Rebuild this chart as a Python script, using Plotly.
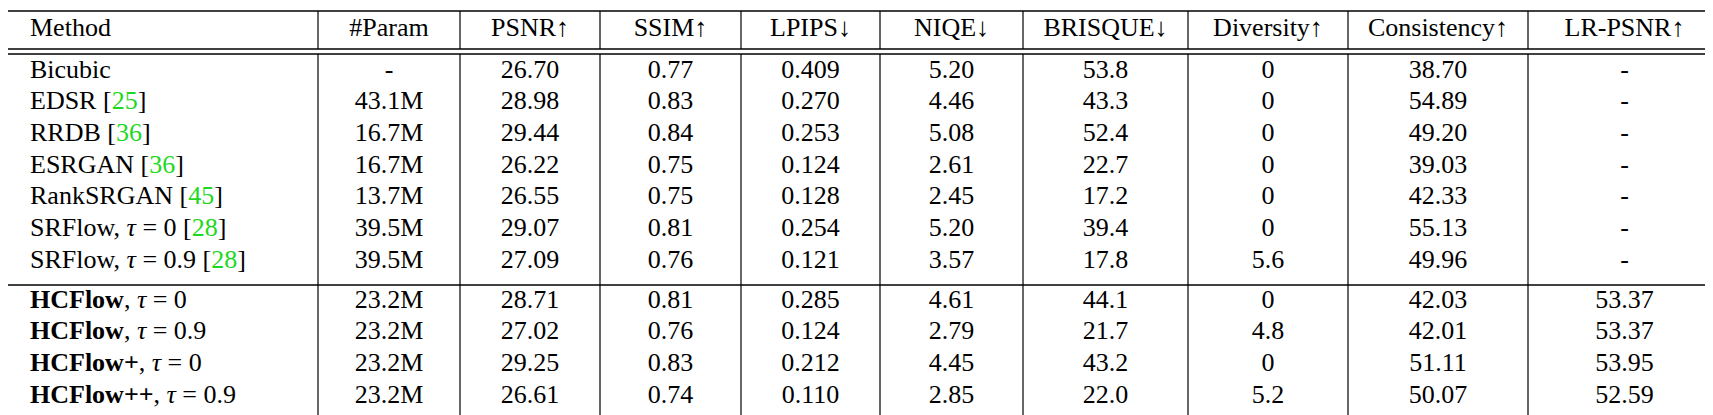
import plotly.graph_objects as go

GREEN = "#1ed81e"


def ref(n):
    return f'[<span style="color:{GREEN}">{n}</span>]'


headers = ["Method", "#Param", "PSNR↑", "SSIM↑", "LPIPS↓", "NIQE↓", "BRISQUE↓",
           "Diversity↑", "Consistency↑", "LR-PSNR↑"]

methods = [
    "Bicubic",
    "EDSR " + ref(25),
    "RRDB " + ref(36),
    "ESRGAN " + ref(36),
    "RankSRGAN " + ref(45),
    "SRFlow, <i>τ</i> = 0 " + ref(28),
    "SRFlow, <i>τ</i> = 0.9 " + ref(28),
    "<b>HCFlow</b>, <i>τ</i> = 0",
    "<b>HCFlow</b>, <i>τ</i> = 0.9",
    "<b>HCFlow+</b>, <i>τ</i> = 0",
    "<b>HCFlow++</b>, <i>τ</i> = 0.9",
]
params = ["-", "43.1M", "16.7M", "16.7M", "13.7M", "39.5M", "39.5M",
          "23.2M", "23.2M", "23.2M", "23.2M"]
psnr = ["26.70", "28.98", "29.44", "26.22", "26.55", "29.07", "27.09",
        "28.71", "27.02", "29.25", "26.61"]
ssim = ["0.77", "0.83", "0.84", "0.75", "0.75", "0.81", "0.76",
        "0.81", "0.76", "0.83", "0.74"]
lpips = ["0.409", "0.270", "0.253", "0.124", "0.128", "0.254", "0.121",
         "0.285", "0.124", "0.212", "0.110"]
niqe = ["5.20", "4.46", "5.08", "2.61", "2.45", "5.20", "3.57",
        "4.61", "2.79", "4.45", "2.85"]
brisque = ["53.8", "43.3", "52.4", "22.7", "17.2", "39.4", "17.8",
           "44.1", "21.7", "43.2", "22.0"]
diversity = ["0", "0", "0", "0", "0", "0", "5.6", "0", "4.8", "0", "5.2"]
consistency = ["38.70", "54.89", "49.20", "39.03", "42.33", "55.13", "49.96",
               "42.03", "42.01", "51.11", "50.07"]
lr_psnr = ["-", "-", "-", "-", "-", "-", "-", "53.37", "53.37", "53.95", "52.59"]

columns = [methods, params, psnr, ssim, lpips, niqe, brisque, diversity, consistency, lr_psnr]

# column edges in pixels
edges = [0, 310, 452, 592, 733, 872, 1015, 1180, 1340, 1520, 1713]
W, H = 1713, 415
top, head_y, dbl1, dbl2, mid_line, bottom = 3, 21, 41, 46, 277, 411
row_h = 31.7


def row_y(i):
    if i < 7:
        return 63 + row_h * i
    return 293 + row_h * (i - 7)


fig = go.Figure()
font = dict(family="Liberation Serif", size=26, color="black")

for c, col in enumerate(columns):
    if c == 0:
        xs = [22] * (len(col) + 1)
        pos = "middle right"
    else:
        xs = [(edges[c] + edges[c + 1]) / 2] * (len(col) + 1)
        pos = "middle center"
    ys = [head_y] + [row_y(i) for i in range(len(col))]
    fig.add_trace(go.Scatter(x=xs, y=ys, mode="text", text=[headers[c]] + col,
                             textposition=pos, textfont=font, hoverinfo="skip",
                             showlegend=False))

line = dict(color="black", width=1.5)
for y in [top, dbl1, dbl2, mid_line, bottom]:
    fig.add_shape(type="line", x0=0, x1=W, y0=y, y1=y, line=line)
for x in edges[1:-1]:
    fig.add_shape(type="line", x0=x, x1=x, y0=top, y1=dbl1, line=dict(color="black", width=1.2))
    fig.add_shape(type="line", x0=x, x1=x, y0=dbl2, y1=bottom, line=dict(color="black", width=1.2))

fig.update_xaxes(range=[0, W], visible=False)
fig.update_yaxes(range=[H, 0], visible=False)
fig.update_layout(width=W, height=H, margin=dict(l=0, r=0, t=0, b=0),
                  plot_bgcolor="white", paper_bgcolor="white",
                  font=dict(family="Liberation Serif"))

fig.write_html("out.html")
